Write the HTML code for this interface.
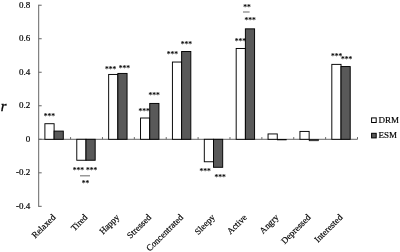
<!DOCTYPE html>
<html><head><meta charset="utf-8"><title>Chart</title>
<style>
html,body{margin:0;padding:0;background:#fff;}
svg{display:block}
text{font-family:"Liberation Serif","Times New Roman",serif;font-size:9px;fill:#000;stroke:#000;stroke-width:0.18}
.st{font-size:7.5px;text-anchor:middle;stroke:#000;stroke-width:0.15}
.lab{text-anchor:end}
</style></head><body>
<svg width="400" height="252" viewBox="0 0 400 252">
<rect width="400" height="252" fill="#fff"/>
<g stroke="#666" stroke-width="1" fill="none">
<line x1="38.7" y1="4.72" x2="38.7" y2="206.84"/>
<line x1="38.7" y1="5.22" x2="41.7" y2="5.22"/>
<line x1="38.7" y1="38.74" x2="41.7" y2="38.74"/>
<line x1="38.7" y1="72.26" x2="41.7" y2="72.26"/>
<line x1="38.7" y1="105.78" x2="41.7" y2="105.78"/>
<line x1="38.7" y1="139.30" x2="41.7" y2="139.30"/>
<line x1="38.7" y1="172.82" x2="41.7" y2="172.82"/>
<line x1="38.7" y1="206.34" x2="41.7" y2="206.34"/>
<line x1="38.7" y1="139.3" x2="357.50" y2="139.3"/>
<line x1="70.58" y1="139.3" x2="70.58" y2="137.10000000000002"/>
<line x1="102.46" y1="139.3" x2="102.46" y2="137.10000000000002"/>
<line x1="134.34" y1="139.3" x2="134.34" y2="137.10000000000002"/>
<line x1="166.22" y1="139.3" x2="166.22" y2="137.10000000000002"/>
<line x1="198.10" y1="139.3" x2="198.10" y2="137.10000000000002"/>
<line x1="229.98" y1="139.3" x2="229.98" y2="137.10000000000002"/>
<line x1="261.86" y1="139.3" x2="261.86" y2="137.10000000000002"/>
<line x1="293.74" y1="139.3" x2="293.74" y2="137.10000000000002"/>
<line x1="325.62" y1="139.3" x2="325.62" y2="137.10000000000002"/>
<line x1="357.50" y1="139.3" x2="357.50" y2="137.10000000000002"/>
</g>
<text x="30.2" y="7.72" text-anchor="end">0.8</text>
<text x="30.2" y="41.24" text-anchor="end">0.6</text>
<text x="30.2" y="74.76" text-anchor="end">0.4</text>
<text x="30.2" y="108.28" text-anchor="end">0.2</text>
<text x="30.2" y="141.80" text-anchor="end">0</text>
<text x="30.2" y="175.32" text-anchor="end">-0.2</text>
<text x="30.2" y="208.84" text-anchor="end">-0.4</text>
<text x="0.8" y="110.5" style="font-size:14.5px;font-style:italic;stroke:#000;stroke-width:0.35">r</text>
<text class="st" x="240.3" y="43.50">***</text>
<rect x="44.90" y="123.71" width="9.2" height="15.59" fill="#fff" stroke="#000" stroke-width="0.95"/>
<rect x="54.10" y="131.09" width="9.2" height="8.21" fill="#595959" stroke="#000" stroke-width="0.95"/>
<rect x="76.78" y="139.30" width="9.2" height="20.95" fill="#fff" stroke="#000" stroke-width="0.95"/>
<rect x="85.98" y="139.30" width="9.2" height="20.95" fill="#595959" stroke="#000" stroke-width="0.95"/>
<rect x="108.66" y="74.44" width="9.2" height="64.86" fill="#fff" stroke="#000" stroke-width="0.95"/>
<rect x="117.86" y="73.43" width="9.2" height="65.87" fill="#595959" stroke="#000" stroke-width="0.95"/>
<rect x="140.54" y="118.01" width="9.2" height="21.29" fill="#fff" stroke="#000" stroke-width="0.95"/>
<rect x="149.74" y="103.43" width="9.2" height="35.87" fill="#595959" stroke="#000" stroke-width="0.95"/>
<rect x="172.42" y="62.04" width="9.2" height="77.26" fill="#fff" stroke="#000" stroke-width="0.95"/>
<rect x="181.62" y="51.48" width="9.2" height="87.82" fill="#595959" stroke="#000" stroke-width="0.95"/>
<rect x="204.30" y="139.30" width="9.2" height="22.46" fill="#fff" stroke="#000" stroke-width="0.95"/>
<rect x="213.50" y="139.30" width="9.2" height="27.99" fill="#595959" stroke="#000" stroke-width="0.95"/>
<rect x="236.18" y="48.46" width="9.2" height="90.84" fill="#fff" stroke="#000" stroke-width="0.95"/>
<rect x="245.38" y="28.85" width="9.2" height="110.45" fill="#595959" stroke="#000" stroke-width="0.95"/>
<rect x="268.06" y="133.94" width="9.2" height="5.36" fill="#fff" stroke="#000" stroke-width="0.95"/>
<rect x="277.26" y="139.30" width="9.2" height="0.67" fill="#595959" stroke="#000" stroke-width="0.6"/>
<rect x="299.94" y="131.42" width="9.2" height="7.88" fill="#fff" stroke="#000" stroke-width="0.95"/>
<rect x="309.14" y="139.30" width="9.2" height="1.51" fill="#595959" stroke="#000" stroke-width="0.6"/>
<rect x="331.82" y="64.38" width="9.2" height="74.92" fill="#fff" stroke="#000" stroke-width="0.95"/>
<rect x="341.02" y="66.56" width="9.2" height="72.74" fill="#595959" stroke="#000" stroke-width="0.95"/>
<text class="st" x="49.3" y="118.90">***</text>
<text class="st" x="85.0" y="172.60">*** ***</text>
<text class="st" x="85.5" y="185.60">**</text>
<text class="st" x="110.5" y="72.40">***</text>
<text class="st" x="124.4" y="71.40">***</text>
<text class="st" x="144.1" y="114.10">***</text>
<text class="st" x="154.2" y="98.20">***</text>
<text class="st" x="172.3" y="57.30">***</text>
<text class="st" x="186.3" y="47.00">***</text>
<text class="st" x="205.2" y="174.40">***</text>
<text class="st" x="220.0" y="180.10">***</text>
<text class="st" x="247.0" y="9.80">**</text>
<text class="st" x="250.1" y="23.10">***</text>
<text class="st" x="336.6" y="59.35">***</text>
<text class="st" x="346.5" y="61.85">***</text>
<line x1="80" y1="175.8" x2="90" y2="175.8" stroke="#808080" stroke-width="1.2"/>
<line x1="243" y1="12" x2="249.6" y2="12" stroke="#808080" stroke-width="1.2"/>
<text class="lab" transform="translate(56.14,217.9) rotate(-45)">Relaxed</text>
<text class="lab" transform="translate(88.02,217.9) rotate(-45)">Tired</text>
<text class="lab" transform="translate(119.90,217.9) rotate(-45)">Happy</text>
<text class="lab" transform="translate(151.78,217.9) rotate(-45)">Stressed</text>
<text class="lab" transform="translate(183.66,217.9) rotate(-45)">Concentrated</text>
<text class="lab" transform="translate(215.54,217.9) rotate(-45)">Sleepy</text>
<text class="lab" transform="translate(247.42,217.9) rotate(-45)">Active</text>
<text class="lab" transform="translate(279.30,217.9) rotate(-45)">Angry</text>
<text class="lab" transform="translate(311.18,217.9) rotate(-45)">Depressed</text>
<text class="lab" transform="translate(343.06,217.9) rotate(-45)">Interested</text>
<rect x="371.6" y="117.9" width="4.6" height="4.6" fill="#fff" stroke="#000" stroke-width="1"/>
<text x="378.6" y="122.9">DRM</text>
<rect x="371.6" y="133.3" width="4.6" height="4.6" fill="#595959" stroke="#000" stroke-width="1"/>
<text x="378.6" y="138.4">ESM</text>
</svg></body></html>
